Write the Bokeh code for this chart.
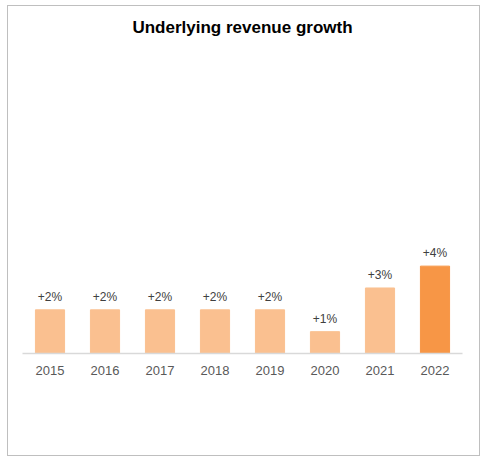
from bokeh.plotting import figure
from bokeh.models import ColumnDataSource, Range1d
from bokeh.core.properties import value
from bokeh.embed import file_html
from bokeh.resources import INLINE

years = ["2015", "2016", "2017", "2018", "2019", "2020", "2021", "2022"]
growth = [2, 2, 2, 2, 2, 1, 3, 4]
labels = ["+2%", "+2%", "+2%", "+2%", "+2%", "+1%", "+3%", "+4%"]
colors = ["#FAC090"] * 7 + ["#F79646"]

FONT = "Liberation Sans"

source = ColumnDataSource(data=dict(year=years, growth=growth, label=labels, color=colors))

# frame height 307 px, ~21.7 px per percentage point
p = figure(x_range=years, y_range=Range1d(0, 307 / 21.7),
           width=473, height=451, output_backend="svg", toolbar_location=None,
           title="Underlying revenue growth",
           min_border_left=14, min_border_right=19, min_border_top=38, min_border_bottom=104)
p.styles = {"border": "1px solid #BFBFBF", "box-sizing": "border-box",
            "margin": "5px 0 0 7px"}

p.title.align = "center"
p.title.text_font = FONT
p.title.text_font_size = "17px"
p.title.text_font_style = "bold"
p.title.text_color = "#000000"
p.title.standoff = 15

p.vbar(x="year", top="growth", width=0.53, color="color", source=source)
p.text(x="year", y="growth", text="label", source=source,
       text_align="center", text_baseline="bottom", y_offset=-6,
       text_font=value(FONT), text_font_size="12px", text_color="#404040")

p.yaxis.visible = False
p.xaxis.axis_line_color = "#D9D9D9"
p.xaxis.axis_line_width = 1.5
p.xaxis.major_tick_line_color = None
p.xaxis.minor_tick_line_color = None
p.xaxis.major_label_text_font = FONT
p.xaxis.major_label_text_font_size = "13px"
p.xaxis.major_label_text_color = "#595959"
p.xaxis.major_label_standoff = 6
p.xgrid.visible = False
p.ygrid.visible = False
p.outline_line_color = None
p.x_range.range_padding = 0

open("out.html", "w").write(file_html(p, INLINE))
